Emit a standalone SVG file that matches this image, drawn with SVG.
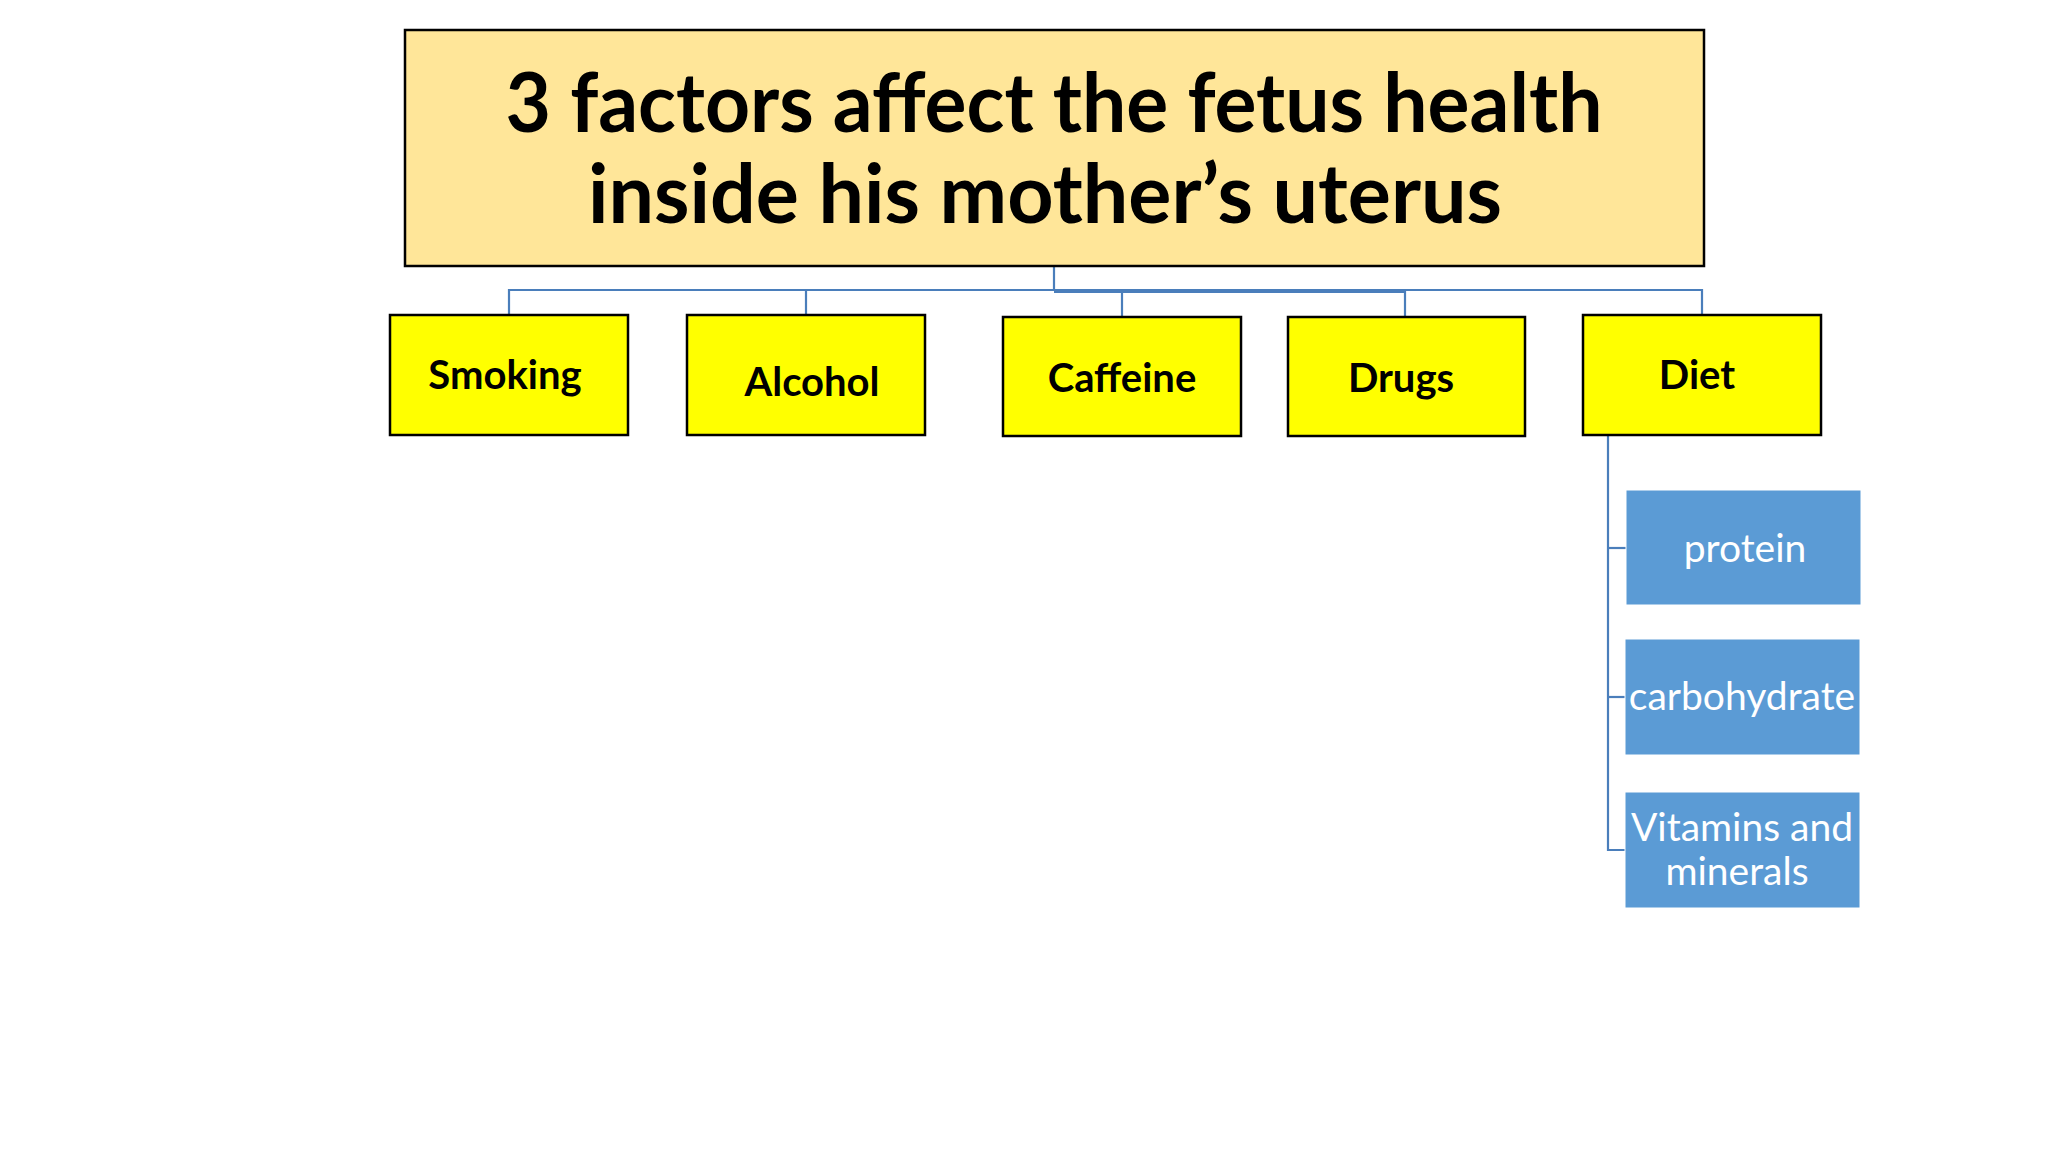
<svg xmlns="http://www.w3.org/2000/svg" width="2048" height="1152" viewBox="0 0 2048 1152">
  <style>
    .title { fill: #FFE699; stroke: #000; stroke-width: 2.5; }
    .factor { fill: #FFFF00; stroke: #000; stroke-width: 2.5; }
    .sub { fill: #5B9BD5; stroke: #FFFFFF; stroke-width: 1; }
    .tt { font-family: Lato, "Liberation Sans", sans-serif; font-weight: bold; font-size: 82px; fill: #000; text-anchor: middle; }
    .ft { font-family: Lato, "Liberation Sans", sans-serif; font-weight: bold; font-size: 40px; fill: #000; text-anchor: middle; }
    .st { font-family: Lato, "Liberation Sans", sans-serif; font-size: 39px; fill: #FFFFFF; text-anchor: middle; }
    .conn { fill: none; stroke: #4A7EBB; stroke-width: 2.2; }
  </style>
  <rect width="2048" height="1152" fill="#FFFFFF"/>
  <g id="connectors">
    <path class="conn" d="M1054 266 V291"/>
    <path class="conn" d="M509 315 V290 H1702 V315"/>
    <path class="conn" d="M1054 292 H1405 V317"/>
    <path class="conn" d="M806 290 V315"/>
    <path class="conn" d="M1122 292 V317"/>
    <path class="conn" d="M1608 435 V850 H1625"/>
    <path class="conn" d="M1608 548 H1626"/>
    <path class="conn" d="M1608 697 H1625"/>
  </g>
  <g id="title">
    <rect class="title" x="405" y="30" width="1299" height="236"/>
    <text class="tt" x="1054" y="132" textLength="1097" lengthAdjust="spacingAndGlyphs">3 factors affect the fetus health</text>
    <text class="tt" x="1045" y="223" textLength="914" lengthAdjust="spacingAndGlyphs">inside his mother’s uterus</text>
  </g>
  <g id="smoking">
    <rect class="factor" x="390" y="315" width="238" height="120"/>
    <text class="ft" x="505" y="389">Smoking</text>
  </g>
  <g id="alcohol">
    <rect class="factor" x="687" y="315" width="238" height="120"/>
    <text class="ft" x="812" y="396">Alcohol</text>
  </g>
  <g id="caffeine">
    <rect class="factor" x="1003" y="317" width="238" height="119"/>
    <text class="ft" x="1122" y="392">Caffeine</text>
  </g>
  <g id="drugs">
    <rect class="factor" x="1288" y="317" width="237" height="119"/>
    <text class="ft" x="1401" y="392">Drugs</text>
  </g>
  <g id="diet">
    <rect class="factor" x="1583" y="315" width="238" height="120"/>
    <text class="ft" x="1697" y="389">Diet</text>
  </g>
  <g id="protein">
    <rect class="sub" x="1626" y="490" width="235" height="115"/>
    <text class="st" x="1745" y="562">protein</text>
  </g>
  <g id="carbohydrate">
    <rect class="sub" x="1625" y="639" width="235" height="116"/>
    <text class="st" x="1742" y="710">carbohydrate</text>
  </g>
  <g id="vitamins">
    <rect class="sub" x="1625" y="792" width="235" height="116"/>
    <text class="st" x="1742" y="841">Vitamins and</text>
    <text class="st" x="1737" y="885">minerals</text>
  </g>
</svg>
